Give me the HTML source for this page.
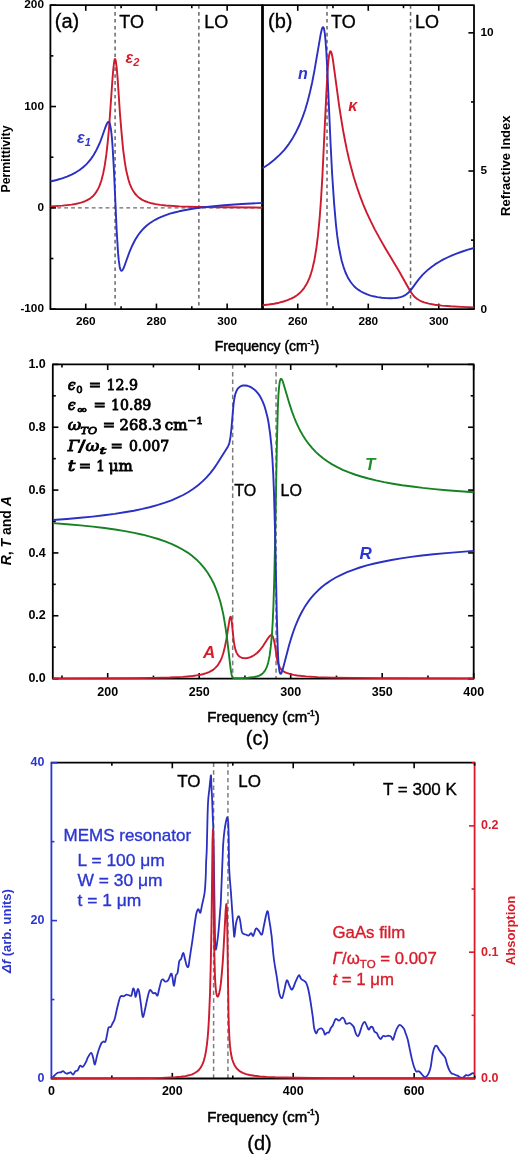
<!DOCTYPE html>
<html><head><meta charset="utf-8"><title>Figure</title>
<style>html,body{margin:0;padding:0;background:#fff;}svg{display:block;}</style></head>
<body><svg width="520" height="1154" viewBox="0 0 520 1154">
<rect width="520" height="1154" fill="#fff"/>
<defs>
<clipPath id="ca"><rect x="50.1" y="4.9" width="212.7" height="305.2"/></clipPath>
<clipPath id="cb"><rect x="262.2" y="4.9" width="212.1" height="305.2"/></clipPath>
<clipPath id="cc"><rect x="52.5" y="364.09999999999997" width="421.5" height="315.40000000000003"/></clipPath>
<clipPath id="cd"><rect x="51.1" y="762.4000000000001" width="423.80000000000007" height="316.99999999999994"/></clipPath>
</defs>
<line x1="50.40" y1="207.87" x2="262.50" y2="207.87" stroke="#6a6a6a" stroke-width="1.4" stroke-dasharray="3.8,3.1"/>
<line x1="115.09" y1="5.20" x2="115.09" y2="309.20" stroke="#666" stroke-width="1.5" stroke-dasharray="3.6,3.3"/>
<line x1="198.87" y1="5.20" x2="198.87" y2="309.20" stroke="#666" stroke-width="1.5" stroke-dasharray="3.6,3.3"/>
<line x1="327.01" y1="5.20" x2="327.01" y2="309.20" stroke="#666" stroke-width="1.5" stroke-dasharray="3.6,3.3"/>
<line x1="410.55" y1="5.20" x2="410.55" y2="309.20" stroke="#666" stroke-width="1.5" stroke-dasharray="3.6,3.3"/>
<line x1="49.70" y1="5.20" x2="263.20" y2="5.20" stroke="#000" stroke-width="1.8" />
<line x1="49.70" y1="309.20" x2="263.20" y2="309.20" stroke="#000" stroke-width="1.8" />
<line x1="50.40" y1="5.20" x2="50.40" y2="309.20" stroke="#000" stroke-width="1.8" />
<line x1="262.50" y1="5.20" x2="262.50" y2="309.20" stroke="#000" stroke-width="1.8" />
<line x1="261.80" y1="5.20" x2="474.70" y2="5.20" stroke="#000" stroke-width="1.8" />
<line x1="261.80" y1="309.20" x2="474.70" y2="309.20" stroke="#000" stroke-width="1.8" />
<line x1="262.50" y1="5.20" x2="262.50" y2="309.20" stroke="#000" stroke-width="1.8" />
<line x1="474.00" y1="5.20" x2="474.00" y2="309.20" stroke="#000" stroke-width="1.8" />
<line x1="262.50" y1="5.20" x2="262.50" y2="309.20" stroke="#000" stroke-width="2.4" />
<line x1="85.75" y1="309.20" x2="85.75" y2="303.60" stroke="#000" stroke-width="1.6" />
<line x1="85.75" y1="5.20" x2="85.75" y2="10.80" stroke="#000" stroke-width="1.6" />
<line x1="297.75" y1="309.20" x2="297.75" y2="303.60" stroke="#000" stroke-width="1.6" />
<line x1="297.75" y1="5.20" x2="297.75" y2="10.80" stroke="#000" stroke-width="1.6" />
<line x1="121.10" y1="309.20" x2="121.10" y2="306.20" stroke="#000" stroke-width="1.6" />
<line x1="121.10" y1="5.20" x2="121.10" y2="8.20" stroke="#000" stroke-width="1.6" />
<line x1="333.00" y1="309.20" x2="333.00" y2="306.20" stroke="#000" stroke-width="1.6" />
<line x1="333.00" y1="5.20" x2="333.00" y2="8.20" stroke="#000" stroke-width="1.6" />
<line x1="156.45" y1="309.20" x2="156.45" y2="303.60" stroke="#000" stroke-width="1.6" />
<line x1="156.45" y1="5.20" x2="156.45" y2="10.80" stroke="#000" stroke-width="1.6" />
<line x1="368.25" y1="309.20" x2="368.25" y2="303.60" stroke="#000" stroke-width="1.6" />
<line x1="368.25" y1="5.20" x2="368.25" y2="10.80" stroke="#000" stroke-width="1.6" />
<line x1="191.80" y1="309.20" x2="191.80" y2="306.20" stroke="#000" stroke-width="1.6" />
<line x1="191.80" y1="5.20" x2="191.80" y2="8.20" stroke="#000" stroke-width="1.6" />
<line x1="403.50" y1="309.20" x2="403.50" y2="306.20" stroke="#000" stroke-width="1.6" />
<line x1="403.50" y1="5.20" x2="403.50" y2="8.20" stroke="#000" stroke-width="1.6" />
<line x1="227.15" y1="309.20" x2="227.15" y2="303.60" stroke="#000" stroke-width="1.6" />
<line x1="227.15" y1="5.20" x2="227.15" y2="10.80" stroke="#000" stroke-width="1.6" />
<line x1="438.75" y1="309.20" x2="438.75" y2="303.60" stroke="#000" stroke-width="1.6" />
<line x1="438.75" y1="5.20" x2="438.75" y2="10.80" stroke="#000" stroke-width="1.6" />
<line x1="50.40" y1="309.20" x2="56.00" y2="309.20" stroke="#000" stroke-width="1.6" />
<line x1="50.40" y1="258.53" x2="53.40" y2="258.53" stroke="#000" stroke-width="1.6" />
<line x1="50.40" y1="207.87" x2="56.00" y2="207.87" stroke="#000" stroke-width="1.6" />
<line x1="50.40" y1="157.20" x2="53.40" y2="157.20" stroke="#000" stroke-width="1.6" />
<line x1="50.40" y1="106.53" x2="56.00" y2="106.53" stroke="#000" stroke-width="1.6" />
<line x1="50.40" y1="55.87" x2="53.40" y2="55.87" stroke="#000" stroke-width="1.6" />
<line x1="50.40" y1="5.20" x2="56.00" y2="5.20" stroke="#000" stroke-width="1.6" />
<line x1="474.00" y1="309.20" x2="468.40" y2="309.20" stroke="#000" stroke-width="1.6" />
<line x1="474.00" y1="240.11" x2="471.00" y2="240.11" stroke="#000" stroke-width="1.6" />
<line x1="474.00" y1="171.02" x2="468.40" y2="171.02" stroke="#000" stroke-width="1.6" />
<line x1="474.00" y1="101.93" x2="471.00" y2="101.93" stroke="#000" stroke-width="1.6" />
<line x1="474.00" y1="32.84" x2="468.40" y2="32.84" stroke="#000" stroke-width="1.6" />
<polyline points="50.4,206.4 62.4,205.6 71.6,204.6 75.5,204.0 78.9,203.2 81.9,202.4 84.7,201.4 87.2,200.2 89.5,198.9 91.6,197.3 93.4,195.7 94.9,193.9 96.5,191.6 97.9,189.2 99.2,186.6 100.2,183.9 101.3,180.8 103.2,173.4 104.8,165.2 106.4,154.2 107.8,141.4 109.1,127.5 112.4,80.0 113.3,69.0 114.2,61.5 114.7,59.3 115.1,59.0 115.4,59.5 115.8,60.8 116.7,67.6 117.6,78.2 120.0,114.1 121.5,132.2 123.2,150.1 125.0,163.3 126.0,169.3 127.3,175.1 128.5,179.8 129.9,184.1 131.5,187.9 133.1,190.8 134.9,193.5 137.0,195.9 139.3,197.9 141.8,199.6 144.6,201.0 147.8,202.2 151.5,203.3 155.6,204.1 160.3,204.9 165.8,205.5 179.4,206.4 198.0,207.0 224.1,207.3 262.5,207.6" fill="none" stroke="#cc1a2e" stroke-width="1.9" stroke-linejoin="round" clip-path="url(#ca)"/>
<polyline points="50.4,181.5 56.6,180.0 62.1,178.4 67.0,176.6 71.6,174.6 75.9,172.3 79.6,170.0 83.1,167.3 86.3,164.4 88.8,161.7 91.2,158.6 93.5,155.2 95.6,151.6 97.9,147.0 100.1,142.1 102.0,137.0 105.5,127.0 106.8,124.0 107.5,122.8 108.2,122.0 108.7,121.9 109.3,122.3 109.8,123.4 110.1,124.6 111.0,129.5 111.9,137.7 112.6,147.1 113.9,169.4 116.7,231.2 118.1,253.4 118.8,260.7 119.7,266.7 120.0,268.2 120.6,269.8 120.9,270.4 121.5,270.8 122.0,270.6 122.5,270.1 123.8,267.7 129.2,252.7 132.4,245.2 135.2,239.7 138.2,235.0 140.2,232.4 142.3,229.9 144.6,227.5 147.1,225.3 149.7,223.3 152.4,221.5 155.2,219.8 158.4,218.1 161.9,216.6 165.8,215.1 169.9,213.7 174.3,212.5 179.1,211.3 184.2,210.2 195.5,208.3 208.8,206.6 224.0,205.2 241.8,204.0 262.5,202.9" fill="none" stroke="#2a30c2" stroke-width="1.9" stroke-linejoin="round" clip-path="url(#ca)"/>
<polyline points="262.5,305.2 268.7,304.5 274.1,303.7 279.1,302.7 283.5,301.5 287.5,300.2 291.1,298.7 294.2,297.1 297.0,295.2 299.7,293.1 302.0,290.7 304.1,288.1 306.0,285.1 307.8,281.7 309.6,277.6 311.0,273.6 312.4,268.8 314.5,259.5 316.4,247.9 318.0,235.2 319.6,218.7 321.0,199.7 322.4,176.1 326.3,94.2 327.5,72.3 328.2,63.1 328.9,56.5 329.7,52.7 330.0,51.7 330.2,51.4 330.5,51.2 331.1,51.8 331.6,53.3 332.3,56.4 333.0,60.4 339.3,106.8 341.3,119.5 343.2,131.0 345.0,140.5 346.9,149.9 349.0,159.2 351.2,167.7 353.8,177.2 356.8,186.8 359.8,195.4 363.1,204.1 366.8,212.9 370.7,221.2 374.9,229.6 379.7,238.4 385.3,248.2 399.1,271.3 410.0,290.8 411.8,293.4 413.4,295.5 415.1,297.3 416.9,298.7 418.5,299.8 420.2,300.8 424.1,302.3 428.9,303.6 434.7,304.7 441.9,305.6 450.6,306.3 461.1,306.9 474.0,307.4" fill="none" stroke="#cc1a2e" stroke-width="1.9" stroke-linejoin="round" clip-path="url(#cb)"/>
<polyline points="262.5,168.2 268.7,164.2 274.3,159.8 279.6,154.9 284.4,149.8 288.8,144.1 292.8,137.9 296.5,131.2 299.9,124.0 302.7,116.9 305.2,109.7 307.6,101.4 309.9,92.5 312.2,82.3 314.3,71.4 320.7,34.1 321.4,30.9 322.1,28.4 322.6,27.4 323.0,27.1 323.1,27.1 323.7,27.8 324.0,28.8 324.7,32.7 325.4,39.2 326.3,51.1 327.5,74.0 330.5,142.0 332.1,173.5 334.1,203.4 336.0,225.1 337.2,235.7 338.6,245.5 340.1,253.3 341.6,260.4 343.4,266.6 345.5,272.5 347.8,277.4 350.3,281.5 352.2,284.0 354.1,286.2 356.3,288.2 358.6,289.9 361.0,291.5 363.7,292.9 366.7,294.2 369.8,295.3 373.5,296.3 377.6,297.1 381.8,297.7 386.1,298.1 390.3,298.2 394.2,298.1 397.5,297.7 400.5,297.1 402.8,296.3 404.7,295.4 406.5,294.3 408.3,292.8 411.1,289.6 418.5,279.6 422.5,274.9 425.4,272.1 428.4,269.4 431.5,266.9 435.0,264.4 438.9,262.0 443.0,259.7 447.4,257.5 452.1,255.3 457.1,253.4 462.4,251.5 468.0,249.7 474.0,248.0" fill="none" stroke="#2a30c2" stroke-width="1.9" stroke-linejoin="round" clip-path="url(#cb)"/>
<text x="44.00" y="8.00" font-family="Liberation Sans, Arial, Helvetica, sans-serif" font-size="11.8" font-weight="bold" fill="#000" text-anchor="end" >200</text>
<text x="44.00" y="109.73" font-family="Liberation Sans, Arial, Helvetica, sans-serif" font-size="11.8" font-weight="bold" fill="#000" text-anchor="end" >100</text>
<text x="44.00" y="211.07" font-family="Liberation Sans, Arial, Helvetica, sans-serif" font-size="11.8" font-weight="bold" fill="#000" text-anchor="end" >0</text>
<text x="44.00" y="312.40" font-family="Liberation Sans, Arial, Helvetica, sans-serif" font-size="11.8" font-weight="bold" fill="#000" text-anchor="end" >-100</text>
<text x="85.75" y="325.00" font-family="Liberation Sans, Arial, Helvetica, sans-serif" font-size="11.8" font-weight="bold" fill="#000" text-anchor="middle" >260</text>
<text x="297.75" y="325.00" font-family="Liberation Sans, Arial, Helvetica, sans-serif" font-size="11.8" font-weight="bold" fill="#000" text-anchor="middle" >260</text>
<text x="156.45" y="325.00" font-family="Liberation Sans, Arial, Helvetica, sans-serif" font-size="11.8" font-weight="bold" fill="#000" text-anchor="middle" >280</text>
<text x="368.25" y="325.00" font-family="Liberation Sans, Arial, Helvetica, sans-serif" font-size="11.8" font-weight="bold" fill="#000" text-anchor="middle" >280</text>
<text x="227.15" y="325.00" font-family="Liberation Sans, Arial, Helvetica, sans-serif" font-size="11.8" font-weight="bold" fill="#000" text-anchor="middle" >300</text>
<text x="438.75" y="325.00" font-family="Liberation Sans, Arial, Helvetica, sans-serif" font-size="11.8" font-weight="bold" fill="#000" text-anchor="middle" >300</text>
<text x="480.50" y="36.24" font-family="Liberation Sans, Arial, Helvetica, sans-serif" font-size="11.8" font-weight="bold" fill="#000" text-anchor="start" >10</text>
<text x="480.50" y="174.42" font-family="Liberation Sans, Arial, Helvetica, sans-serif" font-size="11.8" font-weight="bold" fill="#000" text-anchor="start" >5</text>
<text x="480.50" y="312.60" font-family="Liberation Sans, Arial, Helvetica, sans-serif" font-size="11.8" font-weight="bold" fill="#000" text-anchor="start" >0</text>
<text x="54.80" y="28.20" font-family="Liberation Sans, Arial, Helvetica, sans-serif" font-size="20" font-weight="normal" fill="#000" stroke="#000" stroke-width="0.35" text-anchor="start" >(a)</text>
<text x="119.30" y="28.20" font-family="Liberation Sans, Arial, Helvetica, sans-serif" font-size="18" font-weight="normal" fill="#000" stroke="#000" stroke-width="0.35" text-anchor="start" >TO</text>
<text x="204.30" y="28.20" font-family="Liberation Sans, Arial, Helvetica, sans-serif" font-size="18" font-weight="normal" fill="#000" stroke="#000" stroke-width="0.35" text-anchor="start" >LO</text>
<text x="268.00" y="28.20" font-family="Liberation Sans, Arial, Helvetica, sans-serif" font-size="20" font-weight="normal" fill="#000" stroke="#000" stroke-width="0.35" text-anchor="start" >(b)</text>
<text x="331.00" y="28.20" font-family="Liberation Sans, Arial, Helvetica, sans-serif" font-size="18" font-weight="normal" fill="#000" stroke="#000" stroke-width="0.35" text-anchor="start" >TO</text>
<text x="415.00" y="28.20" font-family="Liberation Sans, Arial, Helvetica, sans-serif" font-size="18" font-weight="normal" fill="#000" stroke="#000" stroke-width="0.35" text-anchor="start" >LO</text>
<text x="77.00" y="142.50" font-family="Liberation Sans, Arial, Helvetica, sans-serif" font-size="16" font-weight="bold" fill="#2b36d0" text-anchor="start" font-style="italic" >ε<tspan font-size="11" dy="3">1</tspan></text>
<text x="125.50" y="63.00" font-family="Liberation Sans, Arial, Helvetica, sans-serif" font-size="16" font-weight="bold" fill="#d81c2a" text-anchor="start" font-style="italic" >ε<tspan font-size="11" dy="3">2</tspan></text>
<text x="298.00" y="78.50" font-family="Liberation Sans, Arial, Helvetica, sans-serif" font-size="16" font-weight="bold" fill="#2b36d0" text-anchor="start" font-style="italic" >n</text>
<text x="348.30" y="111.20" font-family="Liberation Sans, Arial, Helvetica, sans-serif" font-size="16" font-weight="bold" fill="#d81c2a" text-anchor="start" font-style="italic" >κ</text>
<text x="10.00" y="159.00" font-family="Liberation Sans, Arial, Helvetica, sans-serif" font-size="12.3" font-weight="bold" fill="#000" text-anchor="middle" transform="rotate(-90 10 159)">Permittivity</text>
<text x="510.50" y="165.70" font-family="Liberation Sans, Arial, Helvetica, sans-serif" font-size="13" font-weight="bold" fill="#000" text-anchor="middle" transform="rotate(-90 510.5 165.7)">Refractive Index</text>
<text x="267.00" y="350.50" font-family="Liberation Sans, Arial, Helvetica, sans-serif" font-size="13.91" font-weight="normal" fill="#000" stroke="#000" stroke-width="0.55" text-anchor="middle" >Frequency (cm<tspan font-size="7.8" dy="-5.9">-1</tspan><tspan dy="5.9">)</tspan></text>
<line x1="232.69" y1="364.40" x2="232.69" y2="678.60" stroke="#7c7c7c" stroke-width="1.5" stroke-dasharray="4.4,3.2"/>
<line x1="276.06" y1="364.40" x2="276.06" y2="678.60" stroke="#7c7c7c" stroke-width="1.5" stroke-dasharray="4.4,3.2"/>
<line x1="52.10" y1="364.40" x2="474.40" y2="364.40" stroke="#000" stroke-width="1.8" />
<line x1="52.10" y1="678.60" x2="474.40" y2="678.60" stroke="#000" stroke-width="1.8" />
<line x1="52.80" y1="364.40" x2="52.80" y2="678.60" stroke="#000" stroke-width="1.8" />
<line x1="473.70" y1="364.40" x2="473.70" y2="678.60" stroke="#000" stroke-width="1.8" />
<line x1="61.95" y1="678.60" x2="61.95" y2="675.60" stroke="#000" stroke-width="1.6" />
<line x1="61.95" y1="364.40" x2="61.95" y2="367.40" stroke="#000" stroke-width="1.6" />
<line x1="107.70" y1="678.60" x2="107.70" y2="673.00" stroke="#000" stroke-width="1.6" />
<line x1="107.70" y1="364.40" x2="107.70" y2="370.00" stroke="#000" stroke-width="1.6" />
<line x1="153.45" y1="678.60" x2="153.45" y2="675.60" stroke="#000" stroke-width="1.6" />
<line x1="153.45" y1="364.40" x2="153.45" y2="367.40" stroke="#000" stroke-width="1.6" />
<line x1="199.20" y1="678.60" x2="199.20" y2="673.00" stroke="#000" stroke-width="1.6" />
<line x1="199.20" y1="364.40" x2="199.20" y2="370.00" stroke="#000" stroke-width="1.6" />
<line x1="244.95" y1="678.60" x2="244.95" y2="675.60" stroke="#000" stroke-width="1.6" />
<line x1="244.95" y1="364.40" x2="244.95" y2="367.40" stroke="#000" stroke-width="1.6" />
<line x1="290.70" y1="678.60" x2="290.70" y2="673.00" stroke="#000" stroke-width="1.6" />
<line x1="290.70" y1="364.40" x2="290.70" y2="370.00" stroke="#000" stroke-width="1.6" />
<line x1="336.45" y1="678.60" x2="336.45" y2="675.60" stroke="#000" stroke-width="1.6" />
<line x1="336.45" y1="364.40" x2="336.45" y2="367.40" stroke="#000" stroke-width="1.6" />
<line x1="382.20" y1="678.60" x2="382.20" y2="673.00" stroke="#000" stroke-width="1.6" />
<line x1="382.20" y1="364.40" x2="382.20" y2="370.00" stroke="#000" stroke-width="1.6" />
<line x1="427.95" y1="678.60" x2="427.95" y2="675.60" stroke="#000" stroke-width="1.6" />
<line x1="427.95" y1="364.40" x2="427.95" y2="367.40" stroke="#000" stroke-width="1.6" />
<line x1="473.70" y1="678.60" x2="473.70" y2="673.00" stroke="#000" stroke-width="1.6" />
<line x1="473.70" y1="364.40" x2="473.70" y2="370.00" stroke="#000" stroke-width="1.6" />
<line x1="52.80" y1="678.60" x2="58.40" y2="678.60" stroke="#000" stroke-width="1.6" />
<line x1="473.70" y1="678.60" x2="468.10" y2="678.60" stroke="#000" stroke-width="1.6" />
<line x1="52.80" y1="647.18" x2="55.80" y2="647.18" stroke="#000" stroke-width="1.6" />
<line x1="473.70" y1="647.18" x2="470.70" y2="647.18" stroke="#000" stroke-width="1.6" />
<line x1="52.80" y1="615.76" x2="58.40" y2="615.76" stroke="#000" stroke-width="1.6" />
<line x1="473.70" y1="615.76" x2="468.10" y2="615.76" stroke="#000" stroke-width="1.6" />
<line x1="52.80" y1="584.34" x2="55.80" y2="584.34" stroke="#000" stroke-width="1.6" />
<line x1="473.70" y1="584.34" x2="470.70" y2="584.34" stroke="#000" stroke-width="1.6" />
<line x1="52.80" y1="552.92" x2="58.40" y2="552.92" stroke="#000" stroke-width="1.6" />
<line x1="473.70" y1="552.92" x2="468.10" y2="552.92" stroke="#000" stroke-width="1.6" />
<line x1="52.80" y1="521.50" x2="55.80" y2="521.50" stroke="#000" stroke-width="1.6" />
<line x1="473.70" y1="521.50" x2="470.70" y2="521.50" stroke="#000" stroke-width="1.6" />
<line x1="52.80" y1="490.08" x2="58.40" y2="490.08" stroke="#000" stroke-width="1.6" />
<line x1="473.70" y1="490.08" x2="468.10" y2="490.08" stroke="#000" stroke-width="1.6" />
<line x1="52.80" y1="458.66" x2="55.80" y2="458.66" stroke="#000" stroke-width="1.6" />
<line x1="473.70" y1="458.66" x2="470.70" y2="458.66" stroke="#000" stroke-width="1.6" />
<line x1="52.80" y1="427.24" x2="58.40" y2="427.24" stroke="#000" stroke-width="1.6" />
<line x1="473.70" y1="427.24" x2="468.10" y2="427.24" stroke="#000" stroke-width="1.6" />
<line x1="52.80" y1="395.82" x2="55.80" y2="395.82" stroke="#000" stroke-width="1.6" />
<line x1="473.70" y1="395.82" x2="470.70" y2="395.82" stroke="#000" stroke-width="1.6" />
<line x1="52.80" y1="364.40" x2="58.40" y2="364.40" stroke="#000" stroke-width="1.6" />
<line x1="473.70" y1="364.40" x2="468.10" y2="364.40" stroke="#000" stroke-width="1.6" />
<polyline points="52.8,678.5 130.0,678.2 152.9,677.9 169.8,677.5 182.8,676.9 192.7,676.0 196.7,675.4 200.3,674.8 203.5,674.0 206.3,673.2 209.0,672.1 211.3,670.9 213.4,669.6 215.3,667.9 217.0,666.2 218.5,664.1 219.9,661.8 221.2,659.1 222.2,656.5 223.2,653.5 224.9,646.7 226.6,638.2 229.4,620.3 230.0,617.6 230.3,617.0 230.6,616.7 230.9,617.0 231.1,617.7 231.6,620.2 233.5,638.8 234.1,643.0 234.7,646.6 235.5,649.9 236.4,652.4 237.5,654.4 238.8,655.9 240.2,657.0 241.7,657.7 243.5,658.1 245.4,658.2 247.5,658.0 249.7,657.4 251.9,656.5 254.0,655.3 257.1,653.0 260.0,650.0 263.2,645.8 267.8,638.6 269.1,636.8 269.8,636.0 270.5,635.4 271.0,635.2 271.6,635.3 272.2,635.7 272.8,636.6 273.3,637.9 273.9,639.9 274.8,644.5 277.1,659.4 278.0,663.2 279.2,666.3 280.0,667.8 280.9,669.0 282.0,670.2 283.3,671.2 284.8,672.1 286.5,672.9 290.6,674.2 293.6,674.9 297.2,675.5 306.0,676.4 317.7,677.1 333.3,677.6 353.9,677.9 381.8,678.1 473.7,678.4" fill="none" stroke="#cc1a2e" stroke-width="1.9" stroke-linejoin="round" clip-path="url(#cc)"/>
<polyline points="52.8,523.1 67.1,524.2 80.4,525.4 92.9,526.6 104.4,528.0 115.1,529.5 125.0,531.1 134.2,532.9 142.8,534.7 150.8,536.8 158.2,539.0 165.1,541.3 171.4,543.8 177.2,546.6 182.6,549.5 187.7,552.6 192.3,556.1 196.6,559.7 200.7,563.8 204.3,568.1 207.7,572.8 210.8,577.9 213.6,583.2 216.0,588.9 218.3,595.3 220.2,601.3 221.8,607.7 223.3,614.4 224.6,621.8 225.8,629.3 227.0,638.0 230.7,669.3 231.5,674.2 232.2,676.8 232.6,677.4 233.1,677.8 233.6,678.1 234.3,678.2 241.4,678.1 248.2,677.7 254.2,677.0 256.6,676.5 258.6,675.9 260.3,675.1 261.9,674.1 263.2,672.8 264.4,671.4 265.5,669.7 266.5,667.6 267.4,665.3 268.2,662.5 268.9,659.4 269.7,655.4 270.8,646.4 271.9,635.2 272.7,622.2 273.4,606.4 274.1,584.6 275.1,541.2 276.9,443.4 277.8,409.3 278.4,395.2 279.1,386.7 279.8,381.4 280.3,379.8 280.7,379.0 281.2,378.9 281.7,379.3 282.4,380.5 283.1,382.4 289.8,404.9 292.0,411.6 294.2,417.5 296.2,422.3 298.3,426.9 300.5,431.2 302.9,435.4 305.8,440.0 308.9,444.2 312.2,448.2 315.7,451.9 319.4,455.3 323.4,458.5 327.6,461.5 332.1,464.4 337.3,467.2 342.7,469.8 348.4,472.2 354.7,474.5 361.2,476.5 368.4,478.5 376.0,480.4 384.1,482.1 392.8,483.7 402.1,485.2 412.1,486.5 422.8,487.9 434.3,489.1 446.5,490.2 473.7,492.2" fill="none" stroke="#178224" stroke-width="1.9" stroke-linejoin="round" clip-path="url(#cc)"/>
<polyline points="52.8,520.0 67.0,519.0 80.2,517.8 92.5,516.6 103.9,515.3 114.6,513.9 124.5,512.3 133.8,510.7 142.5,508.9 150.5,507.0 158.0,504.9 165.0,502.7 171.5,500.3 177.5,497.7 183.2,495.0 188.5,492.0 193.4,488.8 198.1,485.2 202.5,481.4 206.6,477.3 210.5,472.8 213.8,468.6 217.1,463.8 226.9,448.3 228.0,446.4 228.8,444.7 229.4,442.7 229.9,440.3 230.5,436.9 231.4,428.8 233.5,404.7 234.3,398.8 235.3,394.1 236.1,391.9 236.9,390.1 237.9,388.5 239.0,387.4 240.3,386.4 241.7,385.8 243.4,385.5 245.2,385.5 247.5,385.8 249.8,386.6 252.1,387.9 254.2,389.4 256.2,391.3 258.0,393.4 259.8,395.9 261.3,398.7 262.8,401.8 264.2,405.3 265.4,409.3 266.5,413.4 267.6,417.8 268.6,423.0 270.2,434.3 271.4,445.5 272.4,458.6 273.3,475.0 274.0,493.2 275.1,533.5 276.9,619.7 277.8,649.7 278.3,660.4 278.9,667.2 279.5,671.6 279.9,673.0 280.4,673.7 280.8,673.8 281.4,673.1 282.6,670.0 289.0,645.5 291.1,638.4 293.2,632.0 295.2,626.5 297.3,621.3 299.5,616.5 301.8,612.0 304.6,607.1 307.7,602.4 310.9,598.2 314.4,594.1 318.2,590.3 322.1,586.8 326.3,583.6 330.8,580.5 335.8,577.5 341.2,574.8 347.0,572.2 353.2,569.8 359.8,567.5 366.9,565.4 374.5,563.5 382.7,561.7 391.5,560.0 401.0,558.4 411.1,556.9 421.9,555.5 433.5,554.3 446.0,553.1 473.7,550.9" fill="none" stroke="#2a30c2" stroke-width="1.9" stroke-linejoin="round" clip-path="url(#cc)"/>
<text x="45.80" y="682.20" font-family="Liberation Sans, Arial, Helvetica, sans-serif" font-size="12.5" font-weight="bold" fill="#000" text-anchor="end" >0.0</text>
<text x="45.80" y="619.36" font-family="Liberation Sans, Arial, Helvetica, sans-serif" font-size="12.5" font-weight="bold" fill="#000" text-anchor="end" >0.2</text>
<text x="45.80" y="556.52" font-family="Liberation Sans, Arial, Helvetica, sans-serif" font-size="12.5" font-weight="bold" fill="#000" text-anchor="end" >0.4</text>
<text x="45.80" y="493.68" font-family="Liberation Sans, Arial, Helvetica, sans-serif" font-size="12.5" font-weight="bold" fill="#000" text-anchor="end" >0.6</text>
<text x="45.80" y="430.84" font-family="Liberation Sans, Arial, Helvetica, sans-serif" font-size="12.5" font-weight="bold" fill="#000" text-anchor="end" >0.8</text>
<text x="45.80" y="368.00" font-family="Liberation Sans, Arial, Helvetica, sans-serif" font-size="12.5" font-weight="bold" fill="#000" text-anchor="end" >1.0</text>
<text x="107.70" y="695.50" font-family="Liberation Sans, Arial, Helvetica, sans-serif" font-size="12.5" font-weight="bold" fill="#000" text-anchor="middle" >200</text>
<text x="199.20" y="695.50" font-family="Liberation Sans, Arial, Helvetica, sans-serif" font-size="12.5" font-weight="bold" fill="#000" text-anchor="middle" >250</text>
<text x="290.70" y="695.50" font-family="Liberation Sans, Arial, Helvetica, sans-serif" font-size="12.5" font-weight="bold" fill="#000" text-anchor="middle" >300</text>
<text x="382.20" y="695.50" font-family="Liberation Sans, Arial, Helvetica, sans-serif" font-size="12.5" font-weight="bold" fill="#000" text-anchor="middle" >350</text>
<text x="473.70" y="695.50" font-family="Liberation Sans, Arial, Helvetica, sans-serif" font-size="12.5" font-weight="bold" fill="#000" text-anchor="middle" >400</text>
<text x="263.50" y="722.00" font-family="Liberation Sans, Arial, Helvetica, sans-serif" font-size="14.98" font-weight="normal" fill="#000" stroke="#000" stroke-width="0.55" text-anchor="middle" >Frequency (cm<tspan font-size="8.4" dy="-6.3">-1</tspan><tspan dy="6.3">)</tspan></text>
<text x="257.50" y="745.00" font-family="Liberation Sans, Arial, Helvetica, sans-serif" font-size="20" font-weight="normal" fill="#000" stroke="#000" stroke-width="0.35" text-anchor="middle" >(c)</text>
<text x="11.00" y="530.70" font-family="Liberation Sans, Arial, Helvetica, sans-serif" font-size="14" font-weight="bold" fill="#000" text-anchor="middle" transform="rotate(-90 11 530.7)"><tspan font-style="italic">R</tspan>, <tspan font-style="italic">T</tspan> and <tspan font-style="italic">A</tspan></text>
<text x="234.20" y="496.00" font-family="Liberation Sans, Arial, Helvetica, sans-serif" font-size="16" font-weight="normal" fill="#000" stroke="#000" stroke-width="0.35" text-anchor="start" >TO</text>
<text x="280.60" y="496.00" font-family="Liberation Sans, Arial, Helvetica, sans-serif" font-size="16" font-weight="normal" fill="#000" stroke="#000" stroke-width="0.35" text-anchor="start" >LO</text>
<text x="365.00" y="470.00" font-family="Liberation Sans, Arial, Helvetica, sans-serif" font-size="17" font-weight="bold" fill="#1f8f2a" text-anchor="start" font-style="italic" >T</text>
<text x="359.50" y="558.50" font-family="Liberation Sans, Arial, Helvetica, sans-serif" font-size="17" font-weight="bold" fill="#2b36d0" text-anchor="start" font-style="italic" >R</text>
<text x="203.00" y="657.50" font-family="Liberation Sans, Arial, Helvetica, sans-serif" font-size="17" font-weight="bold" fill="#d81c2a" text-anchor="start" font-style="italic" >A</text>
<text x="67.8" y="389.6" font-family="DejaVu Serif, Liberation Serif, serif" font-size="14" font-weight="normal" font-style="italic" stroke="#000" stroke-width="0.8">ϵ</text>
<text x="76.2" y="393.1" font-family="DejaVu Serif, Liberation Serif, serif" font-size="10" font-weight="normal" font-style="normal" stroke="#000" stroke-width="0.8">0</text>
<text x="88.8" y="389.6" font-family="DejaVu Serif, Liberation Serif, serif" font-size="14" font-weight="normal" font-style="normal" stroke="#000" stroke-width="0.8" textLength="12.4" lengthAdjust="spacingAndGlyphs">=</text>
<text x="106.6" y="389.6" font-family="DejaVu Serif, Liberation Serif, serif" font-size="14" font-weight="normal" font-style="normal" stroke="#000" stroke-width="0.8" textLength="31.5" lengthAdjust="spacingAndGlyphs">12.9</text>
<text x="67.8" y="409.9" font-family="DejaVu Serif, Liberation Serif, serif" font-size="14" font-weight="normal" font-style="italic" stroke="#000" stroke-width="0.8">ϵ</text>
<text x="76.6" y="413.4" font-family="DejaVu Serif, Liberation Serif, serif" font-size="10" font-weight="normal" font-style="normal" stroke="#000" stroke-width="0.8" textLength="11" lengthAdjust="spacingAndGlyphs">∞</text>
<text x="93.4" y="409.9" font-family="DejaVu Serif, Liberation Serif, serif" font-size="14" font-weight="normal" font-style="normal" stroke="#000" stroke-width="0.8" textLength="12.4" lengthAdjust="spacingAndGlyphs">=</text>
<text x="111.0" y="409.9" font-family="DejaVu Serif, Liberation Serif, serif" font-size="14" font-weight="normal" font-style="normal" stroke="#000" stroke-width="0.8" textLength="40.3" lengthAdjust="spacingAndGlyphs">10.89</text>
<text x="67.8" y="430.0" font-family="DejaVu Serif, Liberation Serif, serif" font-size="14" font-weight="normal" font-style="italic" stroke="#000" stroke-width="0.8" textLength="13.4" lengthAdjust="spacingAndGlyphs">ω</text>
<text x="80.6" y="433.5" font-family="DejaVu Serif, Liberation Serif, serif" font-size="10" font-weight="normal" font-style="italic" stroke="#000" stroke-width="0.8" textLength="16.6" lengthAdjust="spacingAndGlyphs">TO</text>
<text x="102.7" y="430.0" font-family="DejaVu Serif, Liberation Serif, serif" font-size="14" font-weight="normal" font-style="normal" stroke="#000" stroke-width="0.8" textLength="12.4" lengthAdjust="spacingAndGlyphs">=</text>
<text x="119.5" y="430.0" font-family="DejaVu Serif, Liberation Serif, serif" font-size="14" font-weight="normal" font-style="normal" stroke="#000" stroke-width="0.8" textLength="42.2" lengthAdjust="spacingAndGlyphs">268.3</text>
<text x="164.8" y="430.0" font-family="DejaVu Serif, Liberation Serif, serif" font-size="14" font-weight="normal" font-style="normal" stroke="#000" stroke-width="0.8" textLength="22.5" lengthAdjust="spacingAndGlyphs">cm</text>
<text x="187.2" y="423.5" font-family="DejaVu Serif, Liberation Serif, serif" font-size="10" font-weight="normal" font-style="normal" stroke="#000" stroke-width="0.8" textLength="16" lengthAdjust="spacingAndGlyphs">−1</text>
<text x="67.8" y="450.6" font-family="DejaVu Serif, Liberation Serif, serif" font-size="14" font-weight="normal" font-style="italic" stroke="#000" stroke-width="0.8" textLength="11.5" lengthAdjust="spacingAndGlyphs">Γ</text>
<text x="78.3" y="450.6" font-family="DejaVu Serif, Liberation Serif, serif" font-size="14" font-weight="normal" font-style="normal" stroke="#000" stroke-width="0.8" textLength="7.2" lengthAdjust="spacingAndGlyphs">/</text>
<text x="85.6" y="450.6" font-family="DejaVu Serif, Liberation Serif, serif" font-size="14" font-weight="normal" font-style="italic" stroke="#000" stroke-width="0.8" textLength="13.8" lengthAdjust="spacingAndGlyphs">ω</text>
<text x="99.6" y="454.1" font-family="DejaVu Serif, Liberation Serif, serif" font-size="10" font-weight="normal" font-style="italic" stroke="#000" stroke-width="0.8" textLength="6.6" lengthAdjust="spacingAndGlyphs">t</text>
<text x="110.4" y="450.6" font-family="DejaVu Serif, Liberation Serif, serif" font-size="14" font-weight="normal" font-style="normal" stroke="#000" stroke-width="0.8" textLength="12.4" lengthAdjust="spacingAndGlyphs">=</text>
<text x="128.9" y="450.6" font-family="DejaVu Serif, Liberation Serif, serif" font-size="14" font-weight="normal" font-style="normal" stroke="#000" stroke-width="0.8" textLength="40.2" lengthAdjust="spacingAndGlyphs">0.007</text>
<text x="67.8" y="471.0" font-family="DejaVu Serif, Liberation Serif, serif" font-size="14" font-weight="normal" font-style="italic" stroke="#000" stroke-width="0.8" textLength="7.6" lengthAdjust="spacingAndGlyphs">t</text>
<text x="78.8" y="471.0" font-family="DejaVu Serif, Liberation Serif, serif" font-size="14" font-weight="normal" font-style="normal" stroke="#000" stroke-width="0.8" textLength="12.4" lengthAdjust="spacingAndGlyphs">=</text>
<text x="96.2" y="471.0" font-family="DejaVu Serif, Liberation Serif, serif" font-size="14" font-weight="normal" font-style="normal" stroke="#000" stroke-width="0.8" textLength="8.6" lengthAdjust="spacingAndGlyphs">1</text>
<text x="108.8" y="471.0" font-family="DejaVu Serif, Liberation Serif, serif" font-size="14" font-weight="normal" font-style="normal" stroke="#000" stroke-width="0.8" textLength="24" lengthAdjust="spacingAndGlyphs">μm</text>
<line x1="213.61" y1="762.70" x2="213.61" y2="1078.50" stroke="#7c7c7c" stroke-width="1.5" stroke-dasharray="4.4,3.2"/>
<line x1="227.93" y1="762.70" x2="227.93" y2="1078.50" stroke="#7c7c7c" stroke-width="1.5" stroke-dasharray="4.4,3.2"/>
<line x1="50.70" y1="762.70" x2="475.30" y2="762.70" stroke="#000" stroke-width="1.8" />
<line x1="50.70" y1="1078.50" x2="475.30" y2="1078.50" stroke="#000" stroke-width="1.8" />
<line x1="51.40" y1="762.70" x2="51.40" y2="1078.50" stroke="#2b36d0" stroke-width="1.8" />
<line x1="474.60" y1="762.70" x2="474.60" y2="1078.50" stroke="#d81c2a" stroke-width="1.8" />
<line x1="111.86" y1="1078.50" x2="111.86" y2="1075.50" stroke="#000" stroke-width="1.6" />
<line x1="111.86" y1="762.70" x2="111.86" y2="765.70" stroke="#000" stroke-width="1.6" />
<line x1="172.31" y1="1078.50" x2="172.31" y2="1072.90" stroke="#000" stroke-width="1.6" />
<line x1="172.31" y1="762.70" x2="172.31" y2="768.30" stroke="#000" stroke-width="1.6" />
<line x1="232.77" y1="1078.50" x2="232.77" y2="1075.50" stroke="#000" stroke-width="1.6" />
<line x1="232.77" y1="762.70" x2="232.77" y2="765.70" stroke="#000" stroke-width="1.6" />
<line x1="293.23" y1="1078.50" x2="293.23" y2="1072.90" stroke="#000" stroke-width="1.6" />
<line x1="293.23" y1="762.70" x2="293.23" y2="768.30" stroke="#000" stroke-width="1.6" />
<line x1="353.69" y1="1078.50" x2="353.69" y2="1075.50" stroke="#000" stroke-width="1.6" />
<line x1="353.69" y1="762.70" x2="353.69" y2="765.70" stroke="#000" stroke-width="1.6" />
<line x1="414.14" y1="1078.50" x2="414.14" y2="1072.90" stroke="#000" stroke-width="1.6" />
<line x1="414.14" y1="762.70" x2="414.14" y2="768.30" stroke="#000" stroke-width="1.6" />
<line x1="474.60" y1="1078.50" x2="474.60" y2="1075.50" stroke="#000" stroke-width="1.6" />
<line x1="474.60" y1="762.70" x2="474.60" y2="765.70" stroke="#000" stroke-width="1.6" />
<line x1="51.40" y1="1078.50" x2="57.00" y2="1078.50" stroke="#2b36d0" stroke-width="1.6" />
<line x1="51.40" y1="999.55" x2="54.40" y2="999.55" stroke="#2b36d0" stroke-width="1.6" />
<line x1="51.40" y1="920.60" x2="57.00" y2="920.60" stroke="#2b36d0" stroke-width="1.6" />
<line x1="51.40" y1="841.65" x2="54.40" y2="841.65" stroke="#2b36d0" stroke-width="1.6" />
<line x1="51.40" y1="762.70" x2="57.00" y2="762.70" stroke="#2b36d0" stroke-width="1.6" />
<line x1="474.60" y1="1078.50" x2="469.00" y2="1078.50" stroke="#d81c2a" stroke-width="1.6" />
<line x1="474.60" y1="1015.34" x2="471.60" y2="1015.34" stroke="#d81c2a" stroke-width="1.6" />
<line x1="474.60" y1="952.18" x2="469.00" y2="952.18" stroke="#d81c2a" stroke-width="1.6" />
<line x1="474.60" y1="889.02" x2="471.60" y2="889.02" stroke="#d81c2a" stroke-width="1.6" />
<line x1="474.60" y1="825.86" x2="469.00" y2="825.86" stroke="#d81c2a" stroke-width="1.6" />
<line x1="474.60" y1="762.70" x2="471.60" y2="762.70" stroke="#d81c2a" stroke-width="1.6" />
<path d="M51.5,1078.9 C52.0,1078.3 53.6,1076.4 54.6,1075.4 C55.6,1074.4 56.7,1073.3 57.7,1072.8 C58.7,1072.3 59.9,1072.6 60.8,1072.3 C61.7,1072.0 62.2,1071.0 63.1,1071.2 C64.0,1071.4 65.2,1073.2 66.2,1073.5 C67.2,1073.8 68.4,1073.0 69.2,1072.8 C70.0,1072.6 70.2,1072.0 70.8,1072.3 C71.4,1072.6 72.3,1074.8 73.1,1074.6 C73.9,1074.4 74.6,1071.9 75.4,1071.2 C76.2,1070.5 76.9,1071.2 77.7,1070.3 C78.5,1069.4 79.2,1066.3 80.0,1065.7 C80.8,1065.1 81.7,1066.9 82.3,1066.9 C82.9,1066.9 83.1,1066.6 83.8,1065.7 C84.5,1064.8 85.5,1062.8 86.2,1061.5 C86.9,1060.2 86.9,1059.2 87.7,1057.7 C88.5,1056.2 90.3,1052.8 91.2,1052.8 C92.1,1052.8 92.5,1055.7 93.1,1057.7 C93.7,1059.7 94.3,1064.8 94.9,1064.6 C95.5,1064.3 96.2,1058.9 96.9,1056.2 C97.6,1053.5 98.4,1050.7 99.2,1048.5 C100.0,1046.3 100.8,1044.2 101.5,1043.0 C102.2,1041.8 102.8,1041.7 103.5,1041.5 C104.2,1041.3 104.8,1042.7 105.4,1041.6 C106.0,1040.5 106.5,1037.3 107.0,1035.0 C107.5,1032.7 107.9,1029.0 108.5,1027.7 C109.1,1026.4 110.2,1027.6 110.8,1026.9 C111.4,1026.2 111.7,1025.1 112.3,1023.8 C112.9,1022.5 113.8,1021.6 114.6,1019.2 C115.4,1016.8 116.1,1012.4 116.9,1009.2 C117.7,1006.0 118.6,1002.2 119.2,1000.0 C119.8,997.8 120.0,996.8 120.8,996.2 C121.6,995.6 122.8,996.5 123.8,996.2 C124.8,995.9 125.6,994.7 126.5,994.6 C127.4,994.5 128.4,995.3 129.2,995.4 C130.0,995.5 130.8,996.5 131.5,995.4 C132.2,994.2 132.6,989.1 133.1,988.5 C133.6,987.9 134.2,990.1 134.6,991.5 C135.0,992.9 135.2,997.3 135.7,996.9 C136.2,996.5 137.1,990.0 137.7,989.2 C138.3,988.4 138.7,990.0 139.2,992.3 C139.7,994.6 140.2,999.0 140.8,1003.1 C141.4,1007.2 142.0,1016.1 142.8,1016.9 C143.6,1017.7 144.6,1011.0 145.4,1007.7 C146.2,1004.4 146.9,999.9 147.7,996.9 C148.5,993.9 149.1,990.6 150.0,990.0 C150.9,989.4 152.2,992.6 153.1,993.1 C154.0,993.6 154.7,992.7 155.4,993.1 C156.1,993.5 156.9,996.1 157.5,995.5 C158.1,994.9 158.4,991.7 159.1,989.2 C159.8,986.7 160.7,982.1 161.4,980.5 C162.1,978.9 162.4,979.2 163.1,979.4 C163.8,979.6 164.5,981.6 165.4,981.7 C166.3,981.8 167.4,981.4 168.3,980.0 C169.2,978.6 170.4,974.0 171.1,973.6 C171.8,973.2 172.0,975.7 172.5,977.7 C173.0,979.7 173.4,986.1 174.0,985.7 C174.6,985.3 175.2,977.5 175.8,975.4 C176.4,973.3 176.9,975.4 177.5,973.1 C178.1,970.8 178.6,963.8 179.2,961.5 C179.8,959.2 180.3,960.6 181.0,959.2 C181.7,957.8 182.6,952.9 183.3,952.9 C184.0,952.9 184.4,957.1 185.0,959.2 C185.6,961.3 186.1,964.4 186.7,965.6 C187.3,966.9 187.9,967.8 188.4,966.7 C188.9,965.6 189.1,962.4 189.6,959.2 C190.1,956.0 190.8,950.9 191.3,947.7 C191.8,944.5 192.0,943.4 192.5,939.8 C193.0,936.2 193.8,930.3 194.4,926.0 C195.0,921.7 195.7,916.6 196.3,913.8 C197.0,911.0 197.6,909.4 198.3,909.2 C199.0,909.0 199.8,913.5 200.4,912.7 C201.0,911.9 201.4,907.7 202.1,904.6 C202.8,901.5 203.9,897.3 204.4,894.2 C204.9,891.1 205.0,889.4 205.2,886.1 C205.4,882.8 205.7,878.4 205.8,874.6 C206.0,870.8 205.9,867.0 206.1,863.1 C206.2,859.2 206.5,856.2 206.7,851.5 C206.9,846.8 206.9,843.0 207.1,835.0 C207.3,827.0 207.6,811.0 208.0,803.3 C208.4,795.6 208.9,793.4 209.4,788.8 C209.9,784.1 210.6,776.2 210.9,775.4 C211.2,774.6 211.1,780.1 211.3,784.0 C211.5,787.9 211.8,792.9 212.1,798.5 C212.3,804.1 212.6,812.6 212.8,817.7 C213.0,822.8 213.1,820.5 213.3,829.2 C213.5,837.9 213.8,856.5 214.0,870.0 C214.2,883.5 214.4,896.9 214.6,910.0 C214.8,923.1 214.9,943.8 215.4,948.5 C215.9,953.2 217.1,942.8 217.7,938.5 C218.3,934.2 218.8,928.1 219.2,923.0 C219.6,917.9 220.1,911.5 220.4,907.7 C220.7,903.9 220.5,909.6 220.9,900.0 C221.3,890.4 222.5,859.7 222.9,850.0 C223.3,840.3 223.2,844.7 223.4,841.7 C223.6,838.7 223.9,835.3 224.3,832.1 C224.7,828.9 225.3,825.0 225.8,822.5 C226.3,820.0 226.8,817.2 227.2,817.2 C227.6,817.2 227.9,819.2 228.2,822.5 C228.4,825.8 228.5,829.2 228.7,836.9 C228.9,844.6 228.8,859.6 229.2,868.8 C229.6,878.0 230.4,885.2 230.9,891.9 C231.4,898.6 231.6,902.5 232.1,909.2 C232.6,915.9 233.4,927.8 233.8,932.3 C234.2,936.8 234.1,937.5 234.5,936.0 C234.9,934.5 235.4,926.3 236.1,923.0 C236.8,919.7 237.7,916.6 238.4,916.2 C239.1,915.8 239.6,917.9 240.1,920.4 C240.6,922.9 241.2,928.9 241.7,931.1 C242.2,933.3 242.4,933.0 243.1,933.6 C243.8,934.2 244.9,934.2 245.8,934.5 C246.7,934.8 247.6,935.7 248.5,935.5 C249.4,935.3 250.4,933.1 251.2,933.2 C252.0,933.3 252.4,936.6 253.2,935.9 C254.0,935.1 255.0,929.6 255.9,928.7 C256.8,927.8 257.6,929.5 258.6,930.5 C259.6,931.5 261.0,935.3 261.9,934.5 C262.8,933.7 263.0,929.7 263.9,925.8 C264.8,921.9 266.4,912.1 267.3,911.2 C268.2,910.3 268.6,916.6 269.3,920.4 C270.0,924.2 270.9,930.5 271.3,933.8 C271.8,937.1 271.6,935.6 272.0,940.0 C272.4,944.4 273.2,954.0 274.0,960.0 C274.8,966.0 275.8,970.7 276.7,976.3 C277.6,981.9 278.5,990.2 279.4,993.8 C280.3,997.4 281.3,998.5 282.1,998.1 C282.9,997.7 283.3,994.1 284.1,991.1 C284.9,988.1 285.9,981.3 286.8,980.4 C287.7,979.5 288.6,984.3 289.5,985.8 C290.4,987.3 291.2,990.2 292.2,989.5 C293.2,988.8 294.5,984.1 295.6,981.7 C296.7,979.3 298.0,975.8 298.9,975.3 C299.8,974.8 300.3,978.0 301.2,979.0 C302.1,980.0 303.4,980.3 304.3,981.0 C305.2,981.7 305.6,981.6 306.3,983.1 C307.0,984.6 307.7,986.6 308.4,989.8 C309.1,992.9 309.9,997.5 310.6,1002.0 C311.3,1006.5 312.2,1012.6 312.8,1016.9 C313.4,1021.2 313.5,1025.0 314.1,1027.7 C314.7,1030.4 315.5,1033.0 316.2,1033.3 C316.9,1033.6 317.3,1030.5 318.2,1029.7 C319.1,1028.9 320.6,1028.2 321.5,1028.4 C322.4,1028.6 323.0,1030.0 323.6,1031.0 C324.2,1032.0 324.3,1034.4 324.9,1034.7 C325.4,1035.0 326.2,1033.2 326.9,1032.8 C327.6,1032.4 328.2,1033.2 328.9,1032.4 C329.6,1031.6 330.3,1028.9 331.0,1027.7 C331.7,1026.5 332.2,1026.5 333.0,1025.0 C333.8,1023.5 334.7,1019.6 335.7,1018.9 C336.7,1018.2 337.9,1020.9 339.0,1020.7 C340.1,1020.5 341.5,1017.8 342.4,1017.6 C343.3,1017.4 343.8,1018.6 344.4,1019.6 C345.0,1020.6 345.2,1022.7 345.8,1023.4 C346.4,1024.1 347.1,1023.7 347.8,1023.6 C348.5,1023.5 349.1,1022.8 349.8,1023.0 C350.5,1023.2 351.1,1024.0 351.8,1024.7 C352.5,1025.4 353.1,1025.5 353.8,1027.0 C354.5,1028.5 355.2,1032.1 355.9,1033.7 C356.6,1035.3 357.2,1036.6 357.9,1036.4 C358.6,1036.2 359.2,1034.3 359.9,1032.4 C360.6,1030.5 361.5,1026.8 362.3,1025.0 C363.1,1023.2 364.0,1021.7 364.7,1021.8 C365.4,1021.9 366.0,1024.3 366.7,1025.6 C367.4,1026.9 368.0,1029.4 368.7,1029.6 C369.4,1029.8 370.1,1027.2 370.8,1026.9 C371.5,1026.6 372.2,1026.8 372.8,1027.6 C373.4,1028.4 373.8,1030.7 374.5,1031.6 C375.2,1032.5 376.1,1032.1 376.8,1033.0 C377.5,1033.9 378.1,1036.0 378.8,1037.0 C379.5,1038.0 380.2,1039.2 380.9,1039.0 C381.6,1038.8 382.1,1036.5 382.9,1036.1 C383.7,1035.6 384.7,1036.4 385.6,1036.3 C386.5,1036.2 387.4,1035.7 388.3,1035.7 C389.2,1035.8 390.2,1035.9 391.0,1036.6 C391.8,1037.3 392.3,1040.2 393.0,1039.7 C393.7,1039.2 394.3,1035.5 395.0,1033.6 C395.7,1031.7 396.2,1029.8 397.0,1028.3 C397.8,1026.8 398.8,1025.1 399.7,1024.9 C400.6,1024.7 401.6,1026.1 402.4,1026.9 C403.2,1027.7 403.9,1028.6 404.4,1029.6 C404.9,1030.6 404.9,1031.3 405.5,1033.0 C406.1,1034.7 407.1,1037.0 407.8,1039.7 C408.5,1042.4 409.1,1046.2 409.8,1049.4 C410.5,1052.6 411.2,1056.2 411.9,1059.1 C412.6,1062.0 413.3,1064.7 414.0,1066.7 C414.7,1068.7 415.3,1070.5 416.1,1071.3 C416.9,1072.1 418.1,1071.0 418.9,1071.3 C419.7,1071.6 420.1,1072.3 420.9,1073.2 C421.7,1074.1 422.9,1075.8 423.7,1076.4 C424.5,1077.1 425.0,1077.6 425.8,1077.1 C426.6,1076.6 427.7,1075.2 428.5,1073.6 C429.3,1072.0 429.9,1070.8 430.6,1067.4 C431.3,1064.1 432.0,1057.0 432.7,1053.5 C433.4,1050.0 434.1,1047.9 434.8,1046.6 C435.5,1045.3 436.2,1045.4 436.9,1045.9 C437.6,1046.4 438.2,1048.3 438.9,1049.4 C439.6,1050.5 440.3,1051.5 441.0,1052.4 C441.7,1053.3 442.4,1054.0 443.1,1054.9 C443.8,1055.8 444.5,1056.1 445.2,1057.7 C445.9,1059.3 446.5,1062.5 447.2,1064.6 C447.9,1066.7 448.6,1068.8 449.3,1070.2 C450.0,1071.6 450.7,1072.6 451.4,1073.2 C452.1,1073.8 452.8,1073.7 453.5,1074.0 C454.2,1074.3 454.9,1074.7 455.6,1075.0 C456.3,1075.3 456.9,1075.4 457.6,1075.7 C458.3,1076.0 459.0,1076.8 459.7,1077.1 C460.4,1077.4 461.1,1077.8 461.8,1077.8 C462.5,1077.8 463.2,1077.6 463.9,1077.1 C464.6,1076.6 465.2,1075.2 465.9,1075.0 C466.6,1074.8 467.3,1075.8 468.0,1075.7 C468.7,1075.6 469.3,1075.0 470.1,1074.6 C470.9,1074.2 472.2,1073.3 472.9,1073.2 C473.6,1073.1 474.1,1073.9 474.3,1074.0" fill="none" stroke="#2a30c2" stroke-width="1.8" stroke-linejoin="round" clip-path="url(#cd)"/>
<polyline points="51.7,1078.5 107.3,1078.4 140.8,1078.2 161.7,1077.9 175.4,1077.2 180.8,1076.7 185.3,1076.1 189.0,1075.3 192.2,1074.3 194.8,1073.0 197.1,1071.5 199.1,1069.7 200.8,1067.5 202.4,1064.4 203.8,1060.8 205.0,1056.3 206.0,1051.1 206.9,1044.7 207.7,1037.3 208.4,1028.1 209.0,1017.8 210.0,993.7 210.8,962.9 211.5,924.5 212.5,842.3 212.9,829.7 213.1,833.7 213.3,846.2 213.9,918.4 214.3,951.5 214.9,974.6 215.3,983.2 215.8,989.3 216.3,993.0 216.8,995.4 217.1,996.1 217.4,996.5 217.7,996.6 218.0,996.4 218.7,995.0 219.4,992.3 220.1,988.7 220.8,983.9 221.7,974.9 222.7,962.8 223.7,946.4 225.6,911.0 226.1,905.1 226.3,904.2 226.4,904.1 226.4,904.3 226.7,906.5 226.9,910.1 227.2,923.8 228.5,1013.6 228.9,1028.0 229.5,1039.8 230.0,1045.7 230.6,1050.9 231.3,1055.3 232.2,1059.3 233.3,1062.4 234.5,1065.2 236.1,1067.6 237.8,1069.6 240.0,1071.4 242.8,1072.9 246.0,1074.1 249.8,1075.0 254.4,1075.8 259.9,1076.4 266.7,1076.9 275.0,1077.3 296.8,1077.8 330.6,1078.1 474.6,1078.4" fill="none" stroke="#cc1a2e" stroke-width="1.9" stroke-linejoin="round" clip-path="url(#cd)"/>
<text x="44.50" y="1082.10" font-family="Liberation Sans, Arial, Helvetica, sans-serif" font-size="12.5" font-weight="bold" fill="#2b36d0" text-anchor="end" >0</text>
<text x="44.50" y="924.20" font-family="Liberation Sans, Arial, Helvetica, sans-serif" font-size="12.5" font-weight="bold" fill="#2b36d0" text-anchor="end" >20</text>
<text x="44.50" y="766.30" font-family="Liberation Sans, Arial, Helvetica, sans-serif" font-size="12.5" font-weight="bold" fill="#2b36d0" text-anchor="end" >40</text>
<text x="481.00" y="1082.10" font-family="Liberation Sans, Arial, Helvetica, sans-serif" font-size="12.5" font-weight="bold" fill="#d81c2a" text-anchor="start" >0.0</text>
<text x="481.00" y="955.78" font-family="Liberation Sans, Arial, Helvetica, sans-serif" font-size="12.5" font-weight="bold" fill="#d81c2a" text-anchor="start" >0.1</text>
<text x="481.00" y="829.46" font-family="Liberation Sans, Arial, Helvetica, sans-serif" font-size="12.5" font-weight="bold" fill="#d81c2a" text-anchor="start" >0.2</text>
<text x="51.40" y="1095.20" font-family="Liberation Sans, Arial, Helvetica, sans-serif" font-size="12.5" font-weight="bold" fill="#000" text-anchor="middle" >0</text>
<text x="172.31" y="1095.20" font-family="Liberation Sans, Arial, Helvetica, sans-serif" font-size="12.5" font-weight="bold" fill="#000" text-anchor="middle" >200</text>
<text x="293.23" y="1095.20" font-family="Liberation Sans, Arial, Helvetica, sans-serif" font-size="12.5" font-weight="bold" fill="#000" text-anchor="middle" >400</text>
<text x="414.14" y="1095.20" font-family="Liberation Sans, Arial, Helvetica, sans-serif" font-size="12.5" font-weight="bold" fill="#000" text-anchor="middle" >600</text>
<text x="263.50" y="1121.50" font-family="Liberation Sans, Arial, Helvetica, sans-serif" font-size="14.98" font-weight="normal" fill="#000" stroke="#000" stroke-width="0.55" text-anchor="middle" >Frequency (cm<tspan font-size="8.4" dy="-6.3">-1</tspan><tspan dy="6.3">)</tspan></text>
<text x="259.50" y="1150.00" font-family="Liberation Sans, Arial, Helvetica, sans-serif" font-size="20" font-weight="normal" fill="#000" stroke="#000" stroke-width="0.35" text-anchor="middle" >(d)</text>
<text x="10.50" y="931.00" font-family="Liberation Sans, Arial, Helvetica, sans-serif" font-size="13" font-weight="bold" fill="#2b36d0" text-anchor="middle" transform="rotate(-90 10.5 931)"><tspan font-style="italic">Δf</tspan> (arb. units)</text>
<text x="515.00" y="930.50" font-family="Liberation Sans, Arial, Helvetica, sans-serif" font-size="13" font-weight="bold" fill="#d81c2a" text-anchor="middle" transform="rotate(-90 515 930.5)">Absorption</text>
<text x="177.20" y="786.50" font-family="Liberation Sans, Arial, Helvetica, sans-serif" font-size="17" font-weight="normal" fill="#000" stroke="#000" stroke-width="0.35" text-anchor="start" >TO</text>
<text x="238.20" y="786.50" font-family="Liberation Sans, Arial, Helvetica, sans-serif" font-size="17" font-weight="normal" fill="#000" stroke="#000" stroke-width="0.35" text-anchor="start" >LO</text>
<text x="383.00" y="795.00" font-family="Liberation Sans, Arial, Helvetica, sans-serif" font-size="17" font-weight="normal" fill="#000" stroke="#000" stroke-width="0.35" text-anchor="start" >T = 300 K</text>
<text x="63.50" y="841.00" font-family="Liberation Sans, Arial, Helvetica, sans-serif" font-size="17" font-weight="normal" fill="#2b36d0" stroke="#2b36d0" stroke-width="0.35" text-anchor="start" >MEMS resonator</text>
<text x="77.60" y="866.00" font-family="Liberation Sans, Arial, Helvetica, sans-serif" font-size="17.4" font-weight="normal" fill="#2b36d0" stroke="#2b36d0" stroke-width="0.35" text-anchor="start" >L = 100 μm</text>
<text x="77.60" y="886.00" font-family="Liberation Sans, Arial, Helvetica, sans-serif" font-size="17.4" font-weight="normal" fill="#2b36d0" stroke="#2b36d0" stroke-width="0.35" text-anchor="start" >W = 30 μm</text>
<text x="77.60" y="906.00" font-family="Liberation Sans, Arial, Helvetica, sans-serif" font-size="17.4" font-weight="normal" fill="#2b36d0" stroke="#2b36d0" stroke-width="0.35" text-anchor="start" >t = 1 μm</text>
<text x="332.50" y="938.00" font-family="Liberation Sans, Arial, Helvetica, sans-serif" font-size="16.8" font-weight="normal" fill="#d81c2a" stroke="#d81c2a" stroke-width="0.35" text-anchor="start" >GaAs film</text>
<text x="332.50" y="963.50" font-family="Liberation Sans, Arial, Helvetica, sans-serif" font-size="16.8" font-weight="normal" fill="#d81c2a" stroke="#d81c2a" stroke-width="0.35" text-anchor="start" ><tspan font-style="italic">Γ</tspan>/ω<tspan font-size="11.5" dy="4">TO</tspan><tspan dy="-4"> = 0.007</tspan></text>
<text x="332.50" y="984.50" font-family="Liberation Sans, Arial, Helvetica, sans-serif" font-size="16.8" font-weight="normal" fill="#d81c2a" stroke="#d81c2a" stroke-width="0.35" text-anchor="start" ><tspan font-style="italic">t</tspan> = 1 μm</text>
</svg></body></html>
